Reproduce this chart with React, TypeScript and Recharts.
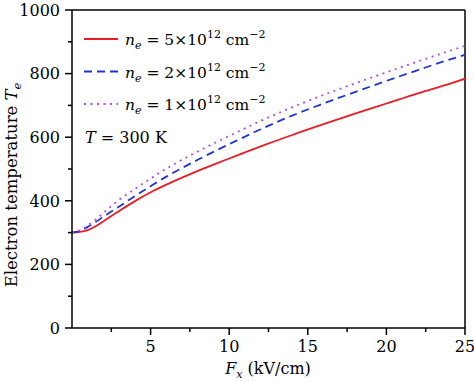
import { LineChart, Line, XAxis, YAxis, ReferenceLine } from 'recharts'

document.body.style.margin = '0'

const fieldKvCm = [0, 0.5, 1, 1.5, 2, 2.5, 3, 4, 5, 6, 7, 8, 9, 10, 12, 14, 16, 18, 20, 22, 24, 25]
const teN5 = [300, 302, 308, 320, 336, 352, 368, 399, 427, 451, 473, 494, 514, 533, 571, 607, 641, 674, 706, 738, 768, 784]
const teN2 = [300, 305, 318, 333, 350, 366, 382, 415, 446, 476, 503, 529, 554, 578, 625, 668, 706, 742, 777, 811, 844, 859]
const teN1 = [300, 307, 322, 341, 362, 383, 403, 437, 470, 501, 529, 555, 580, 604, 651, 694, 733, 769, 804, 838, 871, 887]

const xTicks = [2.5, 5, 7.5, 10, 12.5, 15, 17.5, 20, 22.5, 25]
const yTicks = [0, 100, 200, 300, 400, 500, 600, 700, 800, 900, 1000]

const series = [
  { key: 'n5', mant: '5', color: '#ec1c24', dash: undefined },
  { key: 'n2', mant: '2', color: '#1f35d4', dash: '8 5' },
  { key: 'n1', mant: '1', color: '#b04ee0', dash: '2 4.5' },
]

const data = fieldKvCm.map((f, i) => ({ f, n5: teN5[i], n2: teN2[i], n1: teN1[i] }))

const FONT = '"DejaVu Serif", serif'
const TICK_SIZE = 7
const TICK_MARGIN = 5

const YTick = ({ x, y, payload }: any) => {
  const axisX = x + TICK_SIZE + TICK_MARGIN
  const major = payload.value % 200 === 0
  return (
    <g>
      <line x1={axisX} x2={axisX - (major ? 7 : 4)} y1={y} y2={y} stroke="#000" strokeWidth={1.5} />
      {major && (
        <text x={x} y={y} dy="0.36em" textAnchor="end" fontFamily={FONT} fontSize={16} fill="#000">
          {payload.value}
        </text>
      )}
    </g>
  )
}

const XTick = ({ x, y, payload }: any) => {
  const axisY = y - TICK_SIZE - TICK_MARGIN
  const major = payload.value % 5 === 0
  return (
    <g>
      <line x1={x} x2={x} y1={axisY} y2={axisY + (major ? 7 : 4)} stroke="#000" strokeWidth={1.5} />
      {major && (
        <text x={x} y={y} dy="0.73em" textAnchor="middle" fontFamily={FONT} fontSize={16} fill="#000">
          {payload.value}
        </text>
      )}
    </g>
  )
}

function Annotations() {
  return (
    <svg width={474} height={382} fontFamily={FONT} fontSize={16}
      style={{ position: 'absolute', left: 0, top: 0, pointerEvents: 'none' }}>
      {series.map((s, i) => {
        const y = 39 + i * 32.5
        return (
          <g key={s.key}>
            <line x1={84} x2={118} y1={y} y2={y} stroke={s.color} strokeWidth={1.8} strokeDasharray={s.dash} />
            <text x={125} y={y + 6} fontSize={15.5}>
              <tspan fontStyle="italic">n</tspan>
              <tspan fontSize={11} dy={4} fontStyle="italic">e</tspan>
              <tspan dy={-4}>{` = ${s.mant}×10`}</tspan>
              <tspan fontSize={11} dy={-7}>12</tspan>
              <tspan dy={7}> cm</tspan>
              <tspan fontSize={11} dy={-7}>−2</tspan>
            </text>
          </g>
        )
      })}
      <text x={85} y={143}>
        <tspan fontStyle="italic">T</tspan>
        <tspan> = 300 K</tspan>
      </text>
      <text x={268} y={374} textAnchor="middle">
        <tspan fontStyle="italic">F</tspan>
        <tspan fontSize={11} dy={4} fontStyle="italic">x</tspan>
        <tspan dy={-4}> (kV/cm)</tspan>
      </text>
      <text transform="translate(17,185) rotate(-90)" textAnchor="middle" fontSize={16.5}>
        <tspan>Electron temperature </tspan>
        <tspan fontStyle="italic">T</tspan>
        <tspan fontSize={11.5} dy={4} fontStyle="italic">e</tspan>
      </text>
    </svg>
  )
}

export default function App() {
  return (
    <div style={{ position: 'relative', width: 474, height: 382, background: '#fff' }}>
      <LineChart width={474} height={382} data={data} margin={{ top: 10, right: 9, bottom: 0, left: 0 }}>
        <XAxis dataKey="f" type="number" domain={[0, 25]} ticks={xTicks} interval={0} height={54}
          tick={<XTick />} tickLine={false} tickSize={TICK_SIZE} tickMargin={TICK_MARGIN}
          axisLine={{ stroke: '#000', strokeWidth: 1.5 }} allowDataOverflow />
        <YAxis type="number" domain={[0, 1000]} ticks={yTicks} interval={0} width={72}
          tick={<YTick />} tickLine={false} tickSize={TICK_SIZE} tickMargin={TICK_MARGIN}
          axisLine={{ stroke: '#000', strokeWidth: 1.5 }} allowDataOverflow />
        <ReferenceLine y={1000} stroke="#000" strokeWidth={1.5} />
        <ReferenceLine x={25} stroke="#000" strokeWidth={1.5} />
        {series.map((s) => (
          <Line key={s.key} dataKey={s.key} type="monotone" stroke={s.color} strokeWidth={1.8}
            strokeDasharray={s.dash} dot={false} isAnimationActive={false} />
        ))}
      </LineChart>
      <Annotations />
    </div>
  )
}
